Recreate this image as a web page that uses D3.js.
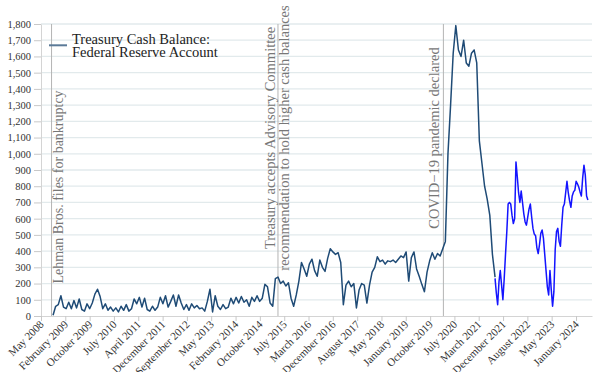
<!DOCTYPE html>
<html>
<head>
<meta charset="utf-8">
<script src="https://cdn.jsdelivr.net/npm/d3@7"></script>
<style>
  body { margin: 0; background: #fff; }
  svg text { font-family: "Liberation Serif", "Times New Roman", serif; }
</style>
</head>
<body>
<div id="chart"></div>
<script>
// weekly Fed account series (sampled every 4 weeks), billions of dollars
var navyStart = "2008-10-01", navyStepDays = 28;
var navyValues = [
  5, 60, 70, 125, 55, 45, 85, 45, 95, 50,
  105, 40, 30, 75, 45, 80, 135, 165, 120, 45,
  75, 35, 55, 30, 50, 25, 60, 35, 70, 30,
  45, 105, 75, 115, 55, 110, 40, 30, 60, 35,
  55, 115, 75, 125, 55, 90, 130, 60, 130, 80,
  40, 70, 35, 75, 50, 65, 45, 50, 30, 90,
  165, 25, 125, 60, 40, 70, 45, 55, 110, 75,
  115, 80, 120, 85, 100, 60, 115, 90, 125, 90,
  110, 195, 180, 80, 60, 230, 240, 200, 215, 185,
  205, 110, 60, 130, 215, 330, 290, 245, 320, 350,
  280, 245, 345, 300, 275, 355, 415, 395, 380, 390,
  330, 70, 190, 215, 180, 200, 50, 160, 200, 190,
  80, 190, 270, 300, 365, 335, 345, 320, 340, 335,
  345, 330, 350, 370, 360, 395, 215, 360, 395, 290,
  245, 195, 150, 270, 340, 390, 350, 385, 370, 415,
  460, 1000, 1300, 1620, 1790, 1640, 1600, 1700, 1560, 1540,
  1620, 1640, 1560, 1080, 940, 800, 720, 620, 380, 240
];
// later part drawn in bright blue (sampled every 2 weeks)
var blueStart = "2021-09-15", blueStepDays = 14;
var blueValues = [
  232, 140, 70, 210, 280, 190, 100, 230, 380, 520,
  690, 700, 690, 620, 570, 600, 950, 860, 760, 700,
  770, 700, 630, 580, 560, 610, 660, 690, 610, 540,
  505, 495, 420, 385, 440, 510, 530, 480, 380, 280,
  180, 130, 280, 160, 60, 150, 410, 520, 540, 460,
  430, 560, 670, 690, 760, 830, 760, 710, 670, 740,
  765, 775, 830, 815, 795, 765, 740, 850, 930, 870,
  740, 715
];

var tickLabels = ["May 2008", "February 2009", "October 2009", "July 2010", "April 2011",
  "December 2011", "September 2012", "May 2013", "February 2014", "October 2014",
  "July 2015", "March 2016", "December 2016", "August 2017", "May 2018",
  "January 2019", "October 2019", "July 2020", "March 2021", "December 2021",
  "August 2022", "May 2023", "January 2024"];
var tickStart = "2008-05-25", tickStepDays = 260.35;
var yTicks = [0, 100, 200, 300, 400, 500, 600, 700, 800, 900, 1000,
  1100, 1200, 1300, 1400, 1500, 1600, 1700, 1800];

var eventDates = ["2008-09-15", "2015-05-06", "2020-03-11"];
var eventLabels = [
  ["Lehman Bros. files for bankruptcy"],
  ["Treasury accepts Advisory Committee", "recommendation to hold higher cash balances"],
  ["COVID\u221219 pandemic declared"]
];
var legendLabel = ["Treasury Cash Balance:", "Federal Reserve Account"];

var parse = d3.timeParse("%Y-%m-%d");
var width = 594, height = 372;
var plotL = 41, plotR = 592, plotT = 24, plotB = 316;

var x = d3.scaleTime()
    .domain([parse("2008-05-25"), parse("2024-07-19")])
    .range([plotL, plotR]);
var y = d3.scaleLinear()
    .domain([0, 1800])
    .range([plotB, plotT]);

function toSeries(start, step, vals) {
    var d0 = parse(start);
    return vals.map(function (v, i) {
        return { fecha: d3.timeDay.offset(d0, i * step), valor: v };
    });
}
var navy = toSeries(navyStart, navyStepDays, navyValues);
var blue = toSeries(blueStart, blueStepDays, blueValues);
var tickDates = tickLabels.map(function (l, i) {
    return d3.timeDay.offset(parse(tickStart), Math.round(i * tickStepDays));
});

var svg = d3.select("#chart").append("svg")
    .attr("width", width)
    .attr("height", height);

// grid
svg.append("g").selectAll("line")
    .data(yTicks.slice(1))
    .enter().append("line")
    .attr("x1", plotL).attr("x2", plotR)
    .attr("y1", function (d) { return y(d); })
    .attr("y2", function (d) { return y(d); })
    .attr("stroke", "#e2eaec")
    .attr("stroke-width", 1.3);

// y axis
var gy = svg.append("g")
    .attr("transform", "translate(" + plotL + ",0)")
    .call(d3.axisLeft(y).tickValues(yTicks).tickSize(7).tickSizeOuter(0).tickPadding(3)
        .tickFormat(d3.format(",")));
gy.select(".domain").attr("stroke", "#d4d4d4");
gy.selectAll(".tick line").attr("stroke", "#c8c8c8");
gy.selectAll("text").attr("fill", "#333").style("font-size", "10.5px");

// x axis
var gx = svg.append("g")
    .attr("transform", "translate(0," + plotB + ")")
    .call(d3.axisBottom(x).tickValues(tickDates).tickSize(5).tickSizeOuter(0)
        .tickFormat(function (d, i) { return tickLabels[i]; }));
gx.select(".domain").attr("stroke", "#d4d4d4");
gx.selectAll(".tick line").attr("stroke", "#c8c8c8");
gx.selectAll("text")
    .attr("fill", "#333")
    .style("font-size", "11px")
    .style("text-anchor", "end")
    .attr("y", 0).attr("dy", 0)
    .attr("transform", "translate(3,9) rotate(-45)");

// event markers
var labelLayout = [
    { dx: [11.5], cy: 187, size: "14px" },
    { dx: [-2.8, 10.8], cy: 138, size: "14.5px" },
    { dx: [-4], cy: 138, size: "14.5px" }
];
eventDates.forEach(function (s, k) {
    var ex = x(parse(s));
    svg.append("line")
        .attr("x1", ex).attr("x2", ex)
        .attr("y1", plotT).attr("y2", plotB)
        .attr("stroke", "#b4b4b4")
        .attr("stroke-width", 1);
    eventLabels[k].forEach(function (t, j) {
        svg.append("text")
            .attr("transform", "translate(" + (ex + labelLayout[k].dx[j]) + "," + labelLayout[k].cy + ") rotate(-90)")
            .attr("text-anchor", "middle")
            .attr("fill", "#777")
            .style("font-size", labelLayout[k].size)
            .text(t);
    });
});

// series
var linea = d3.line()
    .x(function (d) { return x(d.fecha); })
    .y(function (d) { return y(d.valor); });

svg.append("path")
    .datum(navy)
    .attr("fill", "none")
    .attr("stroke", "#1f4b76")
    .attr("stroke-width", 1.5)
    .attr("stroke-linejoin", "round")
    .attr("d", linea);

svg.append("path")
    .datum(blue)
    .attr("fill", "none")
    .attr("stroke", "#1414ff")
    .attr("stroke-width", 1.5)
    .attr("stroke-linejoin", "round")
    .attr("d", linea);

// legend
svg.append("line")
    .attr("x1", 49).attr("x2", 67)
    .attr("y1", 45.3).attr("y2", 45.3)
    .attr("stroke", "#5b7a98")
    .attr("stroke-width", 2);
legendLabel.forEach(function (t, i) {
    svg.append("text")
        .attr("x", 72)
        .attr("y", 44 + i * 12.8)
        .attr("fill", "#222")
        .style("font-size", "14.5px")
        .text(t);
});
</script>
</body>
</html>
